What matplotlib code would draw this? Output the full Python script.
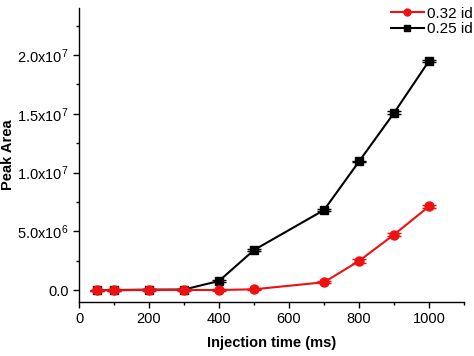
import matplotlib
matplotlib.use("Agg")
import matplotlib.pyplot as plt
from matplotlib.ticker import MultipleLocator, FixedLocator
from matplotlib.lines import Line2D

plt.rcParams['font.family'] = ['Liberation Sans', 'DejaVu Sans']
plt.rcParams['mathtext.fontset'] = 'custom'
plt.rcParams['mathtext.rm'] = 'Liberation Sans'
plt.rcParams['mathtext.it'] = 'Liberation Sans'

x = [50, 100, 200, 300, 400, 500, 700, 800, 900, 1000]
red_vals = [0.0, 0.0, 0.02e6, 0.02e6, 0.02e6, 0.08e6, 0.68e6, 2.49e6, 4.73e6, 7.13e6]
red_err = [0.05e6, 0.05e6, 0.05e6, 0.05e6, 0.05e6, 0.05e6, 0.1e6, 0.15e6, 0.12e6, 0.12e6]
black_vals = [0.0, 0.02e6, 0.05e6, 0.06e6, 0.79e6, 3.42e6, 6.82e6, 10.95e6, 15.08e6, 19.5e6]
black_err = [0.05e6, 0.05e6, 0.05e6, 0.05e6, 0.05e6, 0.12e6, 0.1e6, 0.08e6, 0.12e6, 0.08e6]
yticks = [0, 5e6, 1e7, 1.5e7, 2e7]
ytick_labels = ['0.0', r'5.0x10$^{6}$', r'1.0x10$^{7}$', r'1.5x10$^{7}$', r'2.0x10$^{7}$']

red = '#ee1111'

fig = plt.figure(figsize=(4.74, 3.56), dpi=100)
ax = fig.add_axes([0.1667, 0.1517, 0.8123, 0.8258])

ax.errorbar(x, black_vals, yerr=black_err, color='black', marker='s', ms=5.5,
            lw=1.5, capsize=5, elinewidth=1, capthick=1)
ax.errorbar(x, red_vals, yerr=red_err, color=red, marker='o', ms=6.5,
            lw=1.5, capsize=5, elinewidth=1, capthick=1)

ax.set_xlim(0, 1100)
ax.set_ylim(-1e6, 2.4e7)
ax.xaxis.set_major_locator(MultipleLocator(200))
ax.xaxis.set_minor_locator(MultipleLocator(100))
ax.yaxis.set_major_locator(FixedLocator(yticks))
ax.set_yticklabels(ytick_labels)
ax.yaxis.set_minor_locator(MultipleLocator(2.5e6))
ax.tick_params(which='major', direction='out', length=4, width=1, labelsize=10.5)
ax.tick_params(which='minor', direction='out', length=2.5, width=1)

for s in ['top', 'right']:
    ax.spines[s].set_visible(False)
for s in ['left', 'bottom']:
    ax.spines[s].set_linewidth(1)

ax.set_xlabel('Injection time (ms)', fontsize=10.5, fontweight='bold', labelpad=7)
ax.set_ylabel('Peak Area', fontsize=10.5, fontweight='bold')
ax.yaxis.set_label_coords(-0.165, 0.5)

hr = Line2D([], [], color=red, marker='o', ms=5, lw=1.5)
hb = Line2D([], [], color='black', marker='s', ms=4.5, lw=1.5)
fig.legend([hr, hb], ['0.32 id', '0.25 id'], loc='upper right', bbox_to_anchor=(1.027, 1.02),
           frameon=False, fontsize=11, handlelength=2.2, handletextpad=0.2, labelspacing=0.1)

fig.savefig('out.png', dpi=100)
